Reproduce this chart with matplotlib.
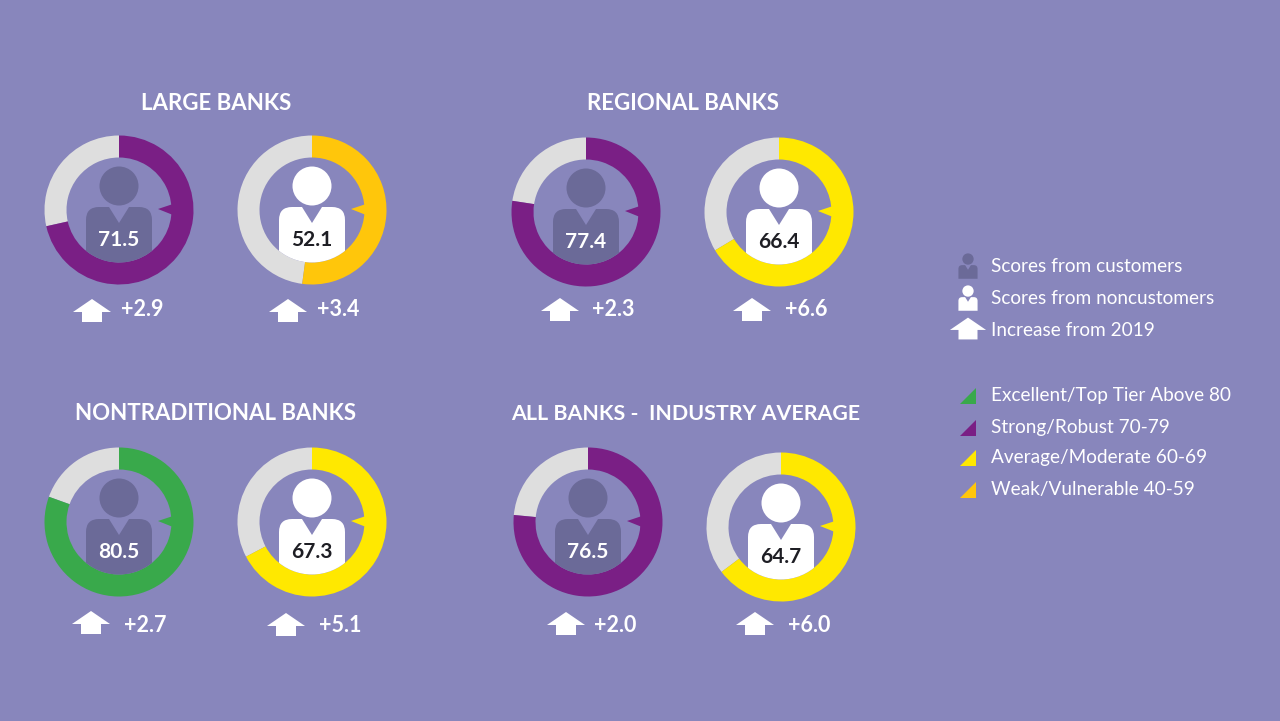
import matplotlib
matplotlib.use("Agg")
import matplotlib.pyplot as plt
from matplotlib.patches import Wedge, Circle, Polygon, PathPatch
from matplotlib.path import Path

# scores per bank group: customers, noncustomers
groups = ["LARGE BANKS", "REGIONAL BANKS", "NONTRADITIONAL BANKS", "ALL BANKS -  INDUSTRY AVERAGE"]
customer_scores = [71.5, 77.4, 80.5, 76.5]
noncustomer_scores = [52.1, 66.4, 67.3, 64.7]
customer_changes = [2.9, 2.3, 2.7, 2.0]
noncustomer_changes = [3.4, 6.6, 5.1, 6.0]

customer_labels = ["Scores from customers", "Scores from noncustomers", "Increase from 2019"]
tier_labels = ["Excellent/Top Tier Above 80", "Strong/Robust 70-79",
               "Average/Moderate 60-69", "Weak/Vulnerable 40-59"]

BG = "#8886BC"
GREY = "#DEDEDE"
GREEN = "#39A94B"
PURPLE = "#7A1F85"
YELLOW = "#FFE800"
AMBER = "#FFC60B"
PERSON_DARK = "#6B6A98"
tier_colors = [GREEN, PURPLE, YELLOW, AMBER]

# layout in pixels
title_pos = [(216, 104), (683, 103), (216, 413), (686, 414)]
title_size = [16, 16, 16, 15.4]
customer_centers = [(119, 210), (586, 212), (119, 522), (588, 522)]
noncustomer_centers = [(312, 210), (779, 212), (312, 522), (781, 527)]
customer_arrows = [(92, 311), (560, 310), (91, 623), (566, 624)]
noncustomer_arrows = [(288, 311), (752, 310), (286, 625), (755, 624)]
customer_delta_x = [121, 592, 124, 594]
noncustomer_delta_x = [317, 785, 319, 788]
delta_y = [310, 310, 625, 625]

R_OUT = 74.5
R_IN = 52.5

plt.rcParams["font.family"] = ["Lato", "DejaVu Sans"]

fig = plt.figure(figsize=(12.8, 7.21), dpi=100, facecolor=BG)
ax = fig.add_axes([0, 0, 1, 1])
ax.set_xlim(0, 1280)
ax.set_ylim(721, 0)
ax.axis("off")


def tier_color(score):
    if score >= 80:
        return GREEN
    if score >= 70:
        return PURPLE
    if score >= 60:
        return YELLOW
    return AMBER


def draw_person(cx, cy, s, color, bottom=60, clip=None):
    head = Circle((cx, cy - 24 * s), 19.5 * s, color=color, lw=0, zorder=3)
    ax.add_patch(head)
    x = lambda v: cx + v * s
    y = lambda v: cy + v * s
    # rounded shoulders with a collar notch in the middle
    verts = [(x(-33), y(bottom)), (x(-33), y(10)), (x(-33), y(-3)), (x(-20), y(-3)),
             (x(-10), y(-3)), (x(0), y(13)), (x(10), y(-3)), (x(20), y(-3)),
             (x(33), y(-3)), (x(33), y(10)), (x(33), y(bottom)), (x(-33), y(bottom))]
    codes = [Path.MOVETO, Path.LINETO, Path.CURVE3, Path.CURVE3,
             Path.LINETO, Path.LINETO, Path.LINETO, Path.LINETO,
             Path.CURVE3, Path.CURVE3, Path.LINETO, Path.CLOSEPOLY]
    body = PathPatch(Path(verts, codes), facecolor=color, lw=0, zorder=3)
    ax.add_patch(body)
    if clip is not None:
        body.set_clip_path(Circle(clip, R_IN, transform=ax.transData))


def draw_arrow(cx, cy, s=1.0):
    pts = [(cx - 19 * s, cy + 1 * s), (cx, cy - 12 * s), (cx + 19 * s, cy + 1 * s),
           (cx + 10 * s, cy + 1 * s), (cx + 10 * s, cy + 11 * s),
           (cx - 10 * s, cy + 11 * s), (cx - 10 * s, cy + 1 * s)]
    ax.add_patch(Polygon(pts, closed=True, color="white", lw=0, zorder=3))


def draw_donut(center, score, person_color, text_color):
    cx, cy = center
    color = tier_color(score)
    end = -90 + score * 3.6
    # y axis is flipped, so growing angles run clockwise on screen
    ax.add_patch(Wedge(center, R_OUT, end, 270, width=R_OUT - R_IN, color=GREY, lw=0, zorder=2))
    ax.add_patch(Wedge(center, R_OUT, -90, end, width=R_OUT - R_IN, color=color, lw=0, zorder=2))
    draw_person(cx, cy, 1.0, person_color, clip=center)
    # small pointer on the inside of the ring
    ax.add_patch(Polygon([(cx + 39, cy - 1), (cx + 54, cy - 6), (cx + 54, cy + 5)],
                         closed=True, color=color, lw=0, zorder=4))
    ax.text(cx, cy + 30, f"{score:.1f}", color=text_color, fontsize=15, fontweight="bold",
            ha="center", va="center", zorder=5)


for i, name in enumerate(groups):
    ax.text(title_pos[i][0], title_pos[i][1], name, color="white", fontsize=title_size[i],
            fontweight="bold", ha="center", va="center")
    draw_donut(customer_centers[i], customer_scores[i], PERSON_DARK, "white")
    draw_donut(noncustomer_centers[i], noncustomer_scores[i], "white", "#1E1E24")

    draw_arrow(*customer_arrows[i])
    draw_arrow(*noncustomer_arrows[i])
    ax.text(customer_delta_x[i], delta_y[i], f"+{customer_changes[i]:.1f}", color="white",
            fontsize=15.5, fontweight="bold", ha="left", va="center")
    ax.text(noncustomer_delta_x[i], delta_y[i], f"+{noncustomer_changes[i]:.1f}", color="white",
            fontsize=15.5, fontweight="bold", ha="left", va="center")

# legend
legend_y = [267, 299, 330]
draw_person(968, 266, 0.29, PERSON_DARK, bottom=44)
draw_person(968, 298, 0.29, "white", bottom=44)
draw_arrow(968, 329, 0.95)
for label, y in zip(customer_labels, legend_y):
    ax.text(991, y, label, color="white", fontsize=13.65, ha="left", va="center")

tier_y = [396, 428, 458, 490]
for label, y, color in zip(tier_labels, tier_y, tier_colors):
    ax.add_patch(Polygon([(960, y + 8), (976, y + 8), (976, y - 8)], closed=True,
                         color=color, lw=0))
    ax.text(991, y, label, color="white", fontsize=13.65, ha="left", va="center")

fig.savefig("out.png", dpi=100, facecolor=BG)
